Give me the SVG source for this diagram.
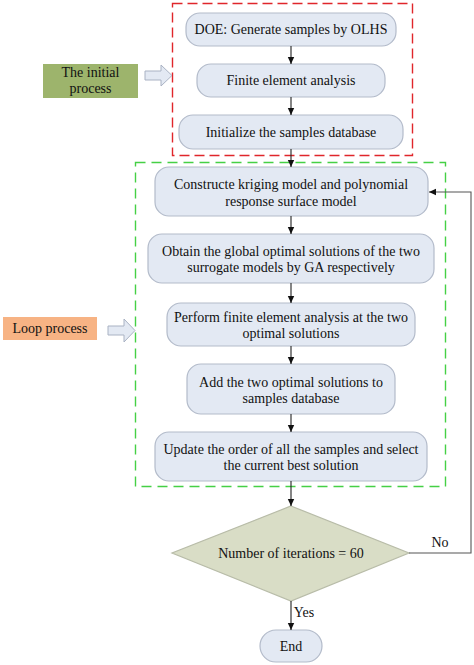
<svg xmlns="http://www.w3.org/2000/svg" width="474" height="665" viewBox="0 0 474 665">
<defs>
<marker id="ah" markerWidth="8" markerHeight="8" refX="7" refY="4" orient="auto" markerUnits="userSpaceOnUse">
<path d="M0,0.8 L7,4 L0,7.2 Z" fill="#111"/>
</marker>
<style>
.box{fill:#E3E9F3;stroke:#B3BBCA;stroke-width:1.2}
.t{font-family:"Liberation Serif","Times New Roman",serif;font-size:14px;fill:#111;text-anchor:middle}
.c{stroke:#222;stroke-width:1.1;fill:none;marker-end:url(#ah)}
.fb{stroke:#555;stroke-width:1.1;fill:none}
.hollow{fill:#E3E9F3;stroke:#A9B2C3;stroke-width:1}
</style>
</defs>
<rect width="474" height="665" fill="#fff"/>
<g id="initial-group">
<rect x="172.5" y="3.5" width="240" height="152" fill="none" stroke="#E0262B" stroke-width="1.4" stroke-dasharray="10,5"/>
</g>
<g id="loop-group">
<rect x="135.5" y="162.5" width="310" height="324" fill="none" stroke="#45D045" stroke-width="1.4" stroke-dasharray="10,6"/>
</g>
<g id="label-initial">
<rect x="43" y="64" width="95" height="34" fill="#9DB46C"/>
<text class="t" x="90.5" y="77">The initial</text>
<text class="t" x="90.5" y="93">process</text>
<path class="hollow" d="M145,71 L161,71 L161,65 L172,75.5 L161,86 L161,80 L145,80 Z"/>
</g>
<g id="label-loop">
<rect x="3" y="317" width="94" height="23" fill="#F7B384"/>
<text class="t" x="50" y="333">Loop process</text>
<path class="hollow" d="M108,326 L124,326 L124,319 L135,330.5 L124,342 L124,335 L108,335 Z"/>
</g>
<g id="n1">
<rect class="box" x="186" y="13" width="210" height="33" rx="14"/>
<text class="t" x="291" y="34">DOE: Generate samples by OLHS</text>
</g>
<g id="n2">
<rect class="box" x="197" y="64" width="188" height="33" rx="14"/>
<text class="t" x="291" y="85">Finite element analysis</text>
</g>
<g id="n3">
<rect class="box" x="179" y="115" width="224" height="34" rx="14"/>
<text class="t" x="291" y="137">Initialize the samples database</text>
</g>
<g id="n4">
<rect class="box" x="155" y="167" width="273" height="49" rx="14"/>
<text class="t" x="291" y="189">Constructe kriging model and polynomial</text>
<text class="t" x="291" y="206">response surface model</text>
</g>
<g id="n5">
<rect class="box" x="148" y="234" width="286" height="49" rx="14"/>
<text class="t" x="291" y="256">Obtain the global optimal solutions of the two</text>
<text class="t" x="291" y="272">surrogate models by GA respectively</text>
</g>
<g id="n6">
<rect class="box" x="167" y="303" width="248" height="43" rx="14"/>
<text class="t" x="291" y="322">Perform finite element analysis at the two</text>
<text class="t" x="291" y="338">optimal solutions</text>
</g>
<g id="n7">
<rect class="box" x="187" y="364" width="208" height="50" rx="14"/>
<text class="t" x="291" y="387">Add the two optimal solutions to</text>
<text class="t" x="291" y="403">samples database</text>
</g>
<g id="n8">
<rect class="box" x="155" y="432" width="272" height="49" rx="14"/>
<text class="t" x="291" y="454">Update the order of all the samples and select</text>
<text class="t" x="291" y="470">the current best solution</text>
</g>
<g id="decision">
<path d="M291,506 L409,553 L291,601 L172,553 Z" fill="#D9DDC6" stroke="#B8BCA8" stroke-width="1.2"/>
<text class="t" x="291" y="558">Number of iterations = 60</text>
</g>
<g id="end">
<rect class="box" x="260" y="630" width="62" height="32" rx="16"/>
<text class="t" x="291" y="651">End</text>
</g>
<g id="connectors">
<line class="c" x1="291" y1="46" x2="291" y2="64"/>
<line class="c" x1="291" y1="97" x2="291" y2="115"/>
<line class="c" x1="291" y1="149" x2="291" y2="167"/>
<line class="c" x1="291" y1="216" x2="291" y2="234"/>
<line class="c" x1="291" y1="283" x2="291" y2="303"/>
<line class="c" x1="291" y1="346" x2="291" y2="364"/>
<line class="c" x1="291" y1="414" x2="291" y2="432"/>
<line class="c" x1="291" y1="481" x2="291" y2="506"/>
<line class="c" x1="291" y1="601" x2="291" y2="630"/>
<path class="fb" d="M409,553 L471,553 L471,192 L429,192" marker-end="url(#ah)"/>
<text class="t" x="440" y="547">No</text>
<text class="t" x="304" y="617">Yes</text>
</g>
</svg>
